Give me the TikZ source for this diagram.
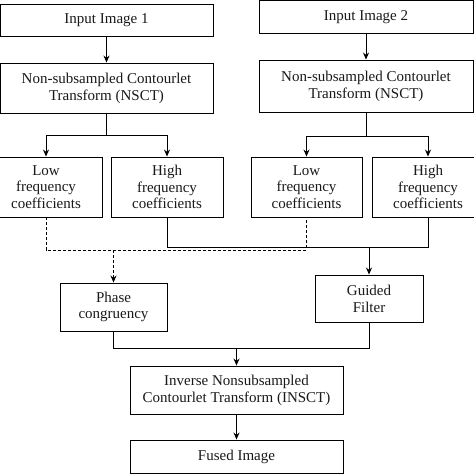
\documentclass[tikz,border=0pt]{standalone}
\usepackage{fontspec}
\setmainfont{Liberation Serif}
\usetikzlibrary{arrows.meta}
\tikzset{
  box/.style={draw=black, line width=0.9pt, align=center, inner sep=2pt,
    font=\fontsize{15pt}{16.8pt}\selectfont, text=black!90},
  arr/.style={line width=0.9pt, -{Stealth[length=7pt,width=6pt]}},
  ln/.style={line width=0.9pt},
  dsh/.style={line width=0.9pt, dash pattern=on 3pt off 2pt}
}
\begin{document}
\begin{tikzpicture}[x=1pt,y=-1pt]
\useasboundingbox (0,0) rectangle (474,474);
\clip (0,0) rectangle (474,474);
\fill[white] (0,0) rectangle (474,474);
% boxes
\node[box, minimum width=213pt, minimum height=32pt] (in1) at (106.5,20) {Input Image 1};
\node[box, minimum width=214pt, minimum height=33pt] (in2) at (366,17) {Input Image 2};
\node[box, minimum width=213pt, minimum height=50pt] (nsct1) at (106.5,88) {Non-subsampled Contourlet\\Transform (NSCT)};
\node[box, minimum width=214pt, minimum height=52pt] (nsct2) at (366,86) {Non-subsampled Contourlet\\Transform (NSCT)};
\node[box, minimum width=112pt, minimum height=60pt] (low1) at (46,187) {Low\\frequency\\coefficients};
\node[box, minimum width=112pt, minimum height=60pt] (high1) at (167,187) {High\\frequency\\coefficients};
\node[box, minimum width=111pt, minimum height=60pt] (low2) at (306.5,187) {Low\\frequency\\coefficients};
\node[box, minimum width=112pt, minimum height=60pt] (high2) at (428,187) {High\\frequency\\coefficients};
\node[box, minimum width=107pt, minimum height=48pt] (phase) at (113.5,307) {Phase\\congruency};
\node[box, minimum width=108pt, minimum height=47pt] (guided) at (369,298.5) {Guided\\Filter};
\node[box, minimum width=213pt, minimum height=48pt] (insct) at (236.5,390) {Inverse Nonsubsampled\\Contourlet Transform (INSCT)};
\node[box, minimum width=213pt, minimum height=33pt] (fused) at (236.5,456.5) {Fused Image};
% junction points
\coordinate (b1) at (106.5,135);
\coordinate (b2) at (366,136);
\coordinate (d) at (113.5,250);
\coordinate (s) at (369,247);
\coordinate (m) at (236.5,348);
% connectors
\draw[arr] (in1) -- (nsct1);
\draw[arr] (in2) -- (nsct2);
\draw[ln] (nsct1.south) -- (b1);
\draw[arr] (b1) -| (low1.north);
\draw[arr] (b1) -| (high1.north);
\draw[ln] (nsct2.south) -- (b2);
\draw[arr] (b2) -| (low2.north);
\draw[arr] (b2) -| (high2.north);
\draw[dsh] (low1.south) |- (low2.south |- d) -- (low2.south);
\draw[dsh, -{Stealth[length=7pt,width=6pt]}] (d) -- (phase.north);
\draw[ln] (high1.south) |- (high2.south |- s) -- (high2.south);
\draw[arr] (s) -- (guided.north);
\draw[ln] (phase.south) |- (guided.south |- m) -- (guided.south);
\draw[arr] (m) -- (insct.north);
\draw[arr] (insct) -- (fused);
\end{tikzpicture}
\end{document}
